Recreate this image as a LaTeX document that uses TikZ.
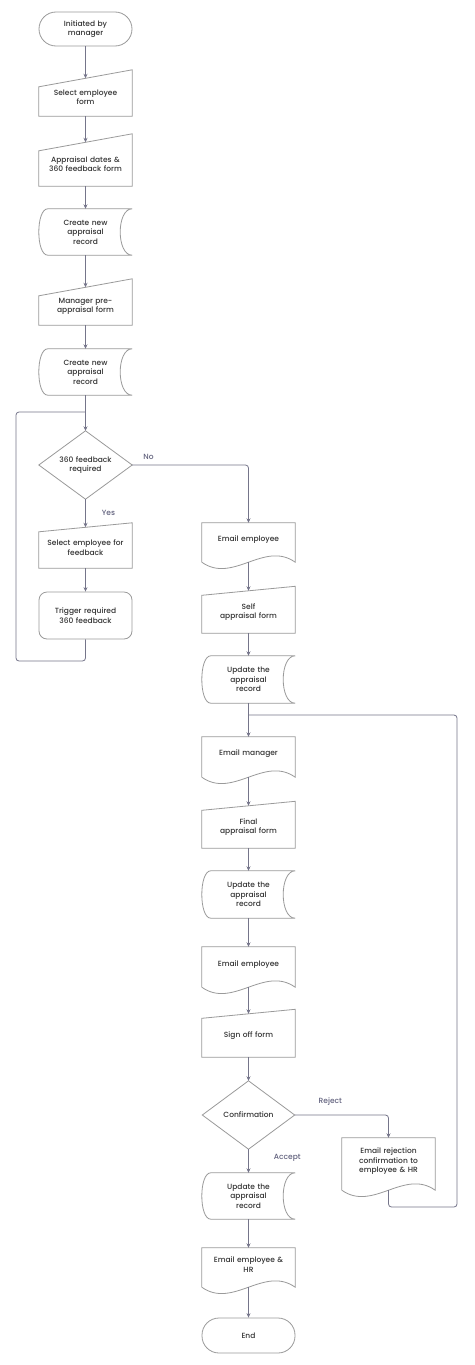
\documentclass[tikz,border=0pt]{standalone}
\usepackage{fontspec}
\setmainfont{Poppins}[UprightFont={* Medium}]
\usepackage{xcolor}
\usepackage{tikz}
\usetikzlibrary{arrows.meta}

\definecolor{shapegray}{HTML}{9A9A9A}
\definecolor{linegray}{HTML}{75758A}
\definecolor{textdark}{HTML}{333333}
\definecolor{lblgray}{HTML}{62627E}

\tikzset{
    outline/.style={draw=shapegray, line width=0.8pt},
    base/.style={rectangle, inner sep=0pt, minimum width=93pt, text width=88pt, align=center,
        font=\fontsize{7.5}{9.5}\selectfont, text=textdark},
    terminal/.style={base, outline, rounded corners=17pt, minimum height=34pt},
    process/.style={base, outline, rounded corners=8pt, minimum height=47pt},
    manual/.style={base, minimum height=37.5pt, append after command={\pgfextra{
        \draw[outline] (\tikzlastnode.south west) -- ([yshift=-#1/2]\tikzlastnode.north west)
            -- ([yshift=#1/2]\tikzlastnode.north east) -- (\tikzlastnode.south east) -- cycle;}}},
    manual/.default=17pt,
    stored/.style={base, minimum height=46pt, append after command={\pgfextra{
        \draw[outline] ([xshift=9pt]\tikzlastnode.north west) -- (\tikzlastnode.north east)
            .. controls ([xshift=-16pt]\tikzlastnode.north east) and ([xshift=-16pt]\tikzlastnode.south east) .. (\tikzlastnode.south east)
            -- ([xshift=9pt]\tikzlastnode.south west)
            .. controls ([xshift=-3pt]\tikzlastnode.south west) and ([xshift=-3pt]\tikzlastnode.north west) .. ([xshift=9pt]\tikzlastnode.north west) -- cycle;}}},
    document/.style={base, text height=-3pt, minimum height=39pt, append after command={\pgfextra{
        \draw[outline] (\tikzlastnode.south west) -- (\tikzlastnode.north west) -- (\tikzlastnode.north east) -- (\tikzlastnode.south east)
            .. controls ([xshift=-31pt,yshift=22pt]\tikzlastnode.south east) and ([xshift=31pt,yshift=-22pt]\tikzlastnode.south west) .. (\tikzlastnode.south west);}}},
    decision/.style={base, minimum height=68pt, append after command={\pgfextra{
        \draw[outline] (\tikzlastnode.north) -- (\tikzlastnode.east) -- (\tikzlastnode.south) -- (\tikzlastnode.west) -- cycle;}}},
    flow/.style={draw=linegray, line width=0.8pt, rounded corners=3pt, -{Stealth[length=4.5pt,width=4pt]}},
    loop/.style={draw=linegray, line width=0.8pt, rounded corners=3pt},
    lbl/.style={inner sep=1pt, text=lblgray, font=\fontsize{7.5}{9}\selectfont}
}

\begin{document}
\begin{tikzpicture}[x=1pt, y=-1pt]
    \path[use as bounding box, fill=white] (0,0) rectangle (474,1365);

    \node[terminal] (start) at (85.5,29) {Initiated by\\manager};
    \node[manual] (selform) at (85.5,97.25) {Select employee\\form};
    \node[manual, minimum height=43.5pt] (dates) at (85.5,164.25) {Appraisal dates \&\\360 feedback form};
    \node[stored] (rec1) at (85.5,232) {Create new\\appraisal\\record};
    \node[manual] (prefm) at (85.5,306.25) {Manager pre-\\appraisal form};
    \node[stored] (rec2) at (85.5,372) {Create new\\appraisal\\record};
    \node[decision] (fb) at (85.5,465) {360 feedback\\required};
    \node[manual=9pt, minimum height=40.5pt] (selfb) at (85.5,547.75) {Select employee for\\feedback};
    \node[process] (trig) at (85.5,615.5) {Trigger required\\360 feedback};

    \node[document] (em1) at (248.5,542.5) {Email employee};
    \node[manual=9pt, minimum height=42pt] (selfap) at (248.5,612) {Self\\appraisal form};
    \node[stored, minimum height=47pt] (rec3) at (248.5,679.5) {Update the\\appraisal\\record};
    \node[document, minimum height=40pt] (emmgr) at (248.5,757) {Email manager};
    \node[manual=9pt, minimum height=42pt] (final) at (248.5,827) {Final\\appraisal form};
    \node[stored, minimum height=47pt] (rec4) at (248.5,894.5) {Update the\\appraisal\\record};
    \node[document, minimum height=40pt] (em2) at (248.5,967) {Email employee};
    \node[manual=9pt, minimum height=43pt] (sign) at (248.5,1035.5) {Sign off form};
    \node[decision, minimum width=92pt] (conf) at (248.5,1115) {Confirmation};
    \node[stored] (rec5) at (248.5,1196) {Update the\\appraisal\\record};
    \node[document] (emhr) at (248.5,1267.5) {Email employee \&\\HR};
    \node[terminal, minimum height=35pt] (finish) at (248.5,1335.5) {End};
    \node[document, minimum height=52pt] (rej) at (388.5,1164) {Email rejection\\confirmation to\\employee \& HR};

    \coordinate (loopcorner) at (16,661);
    \coordinate (loopjoin) at (85.5,412);
    \coordinate (rejcorner) at (457,1207);
    \coordinate (rejjoin) at (248.5,715);

    \draw[flow] (start) -- (selform);
    \draw[flow] (selform) -- (dates);
    \draw[flow] (dates) -- (rec1);
    \draw[flow] (rec1) -- (prefm);
    \draw[flow] (prefm) -- (rec2);
    \draw[flow] (rec2) -- (fb);
    \draw[flow] (fb) -- node[lbl, right=15pt] {Yes} (selfb);
    \draw[flow] (selfb) -- (trig);
    \draw[loop] (trig.south) |- (loopcorner) |- (loopjoin);
    \draw[flow] (fb.east) -| node[lbl, pos=0.07, above, yshift=4pt] {No} (em1.north);

    \draw[flow] (em1) -- (selfap);
    \draw[flow] (selfap) -- (rec3);
    \draw[flow] (rec3) -- (emmgr);
    \draw[flow] (emmgr) -- (final);
    \draw[flow] (final) -- (rec4);
    \draw[flow] (rec4) -- (em2);
    \draw[flow] (em2) -- (sign);
    \draw[flow] (sign) -- (conf);
    \draw[flow] (conf) -- node[lbl, right=24pt, yshift=3pt] {Accept} (rec5);
    \draw[flow] (conf.east) -| node[lbl, pos=0.19, above, yshift=8pt] {Reject} (rej.north);
    \draw[loop] (rej.south) |- (rejcorner) |- (rejjoin);
    \draw[flow] (rec5) -- (emhr);
    \draw[flow] (emhr) -- (finish);
\end{tikzpicture}
\end{document}
